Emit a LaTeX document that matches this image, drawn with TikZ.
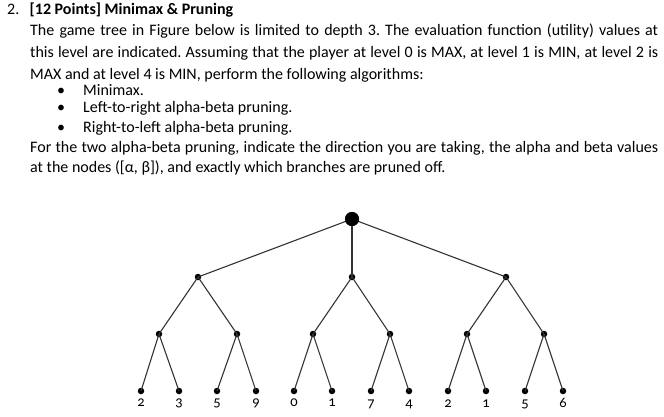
\documentclass[tikz,border=0pt]{standalone}
\usepackage{fontspec}
\setmainfont{Carlito}
\frenchspacing
\begin{document}
\begin{tikzpicture}[x=1bp,y=-1bp,
  txt/.style={anchor=base west,inner sep=0pt,font=\fontsize{16bp}{19bp}\selectfont\frenchspacing},
  leaf/.style={anchor=base,inner sep=0pt,font=\fontsize{14.5bp}{16bp}\selectfont},
  dot/.style={circle,fill=black,inner sep=0pt,minimum size=6.5bp},
  rootdot/.style={circle,fill=black,inner sep=0pt,minimum size=14bp},
  edge/.style={draw=black!80,line width=1.1bp}]
\useasboundingbox (0,0) rectangle (664,416);
% text
\node[txt] (num) at (7,14.5) {2.};
\node[txt] (t1) at (29.5,14.5) {\bfseries [12 Points] Minimax \& Pruning};
\node[txt] (t2) at (30,35.7) {\makebox[628bp][s]{The game tree in Figure below is limited to depth 3. The evaluation function (utility) values at}};
\node[txt] (t3) at (30,57.3) {\makebox[628bp][s]{this level are indicated. Assuming that the player at level 0 is MAX, at level 1 is MIN, at level 2 is}};
\node[txt] (t4) at (30,79) {MAX and at level 4 is MIN, perform the following algorithms:};
\node[txt] (b1) at (57,95) {\textbullet};
\node[txt] (t5) at (83,95) {Minimax.};
\node[txt] (b2) at (57,112.3) {\textbullet};
\node[txt] (t6) at (83,112.3) {Left-to-right alpha-beta pruning.};
\node[txt] (b3) at (57,132.7) {\textbullet};
\node[txt] (t7) at (83,132.7) {Right-to-left alpha-beta pruning.};
\node[txt] (t8) at (30,152.3) {\makebox[628bp][s]{For the two alpha-beta pruning, indicate the direction you are taking, the alpha and beta values}};
\node[txt] (t9) at (30,172.3) {at the nodes ([α, β]), and exactly which branches are pruned off.};
% tree
\node[rootdot] (r) at (352,219) {};
\node[dot] (a) at (198,277) {};
\node[dot] (b) at (352,277) {};
\node[dot] (c) at (506,277) {};
\node[dot] (a1) at (159,334) {};
\node[dot] (a2) at (237,334) {};
\node[dot] (b1n) at (313,334) {};
\node[dot] (b2n) at (390,334) {};
\node[dot] (c1) at (467,334) {};
\node[dot] (c2) at (544,334) {};
\foreach \n/\x in {1/141,2/179,3/217,4/256,5/294,6/332,7/371,8/409,9/448,10/486,11/525,12/563}
  \node[dot] (l\n) at (\x,391) {};
\foreach \p/\q in {r/a,r/b,r/c,a/a1,a/a2,b/b1n,b/b2n,c/c1,c/c2,
  a1/l1,a1/l2,a2/l3,a2/l4,b1n/l5,b1n/l6,b2n/l7,b2n/l8,c1/l9,c1/l10,c2/l11,c2/l12}
  \draw[edge] (\p.center) -- (\q.center);
\node[rootdot] at (r) {};
% leaf values
\foreach \n/\x/\y/\v in {1/141/406/2,2/179/406/3,3/217/406/5,4/256/406/9,5/294/406/0,6/332/406/1,
  7/371/407/7,8/409/407/4,9/448/407/2,10/486/407/1,11/525/407/5,12/563/407/6}
  \node[leaf] (v\n) at (\x,\y) {\oldstylenums{\v}};
\end{tikzpicture}
\end{document}
